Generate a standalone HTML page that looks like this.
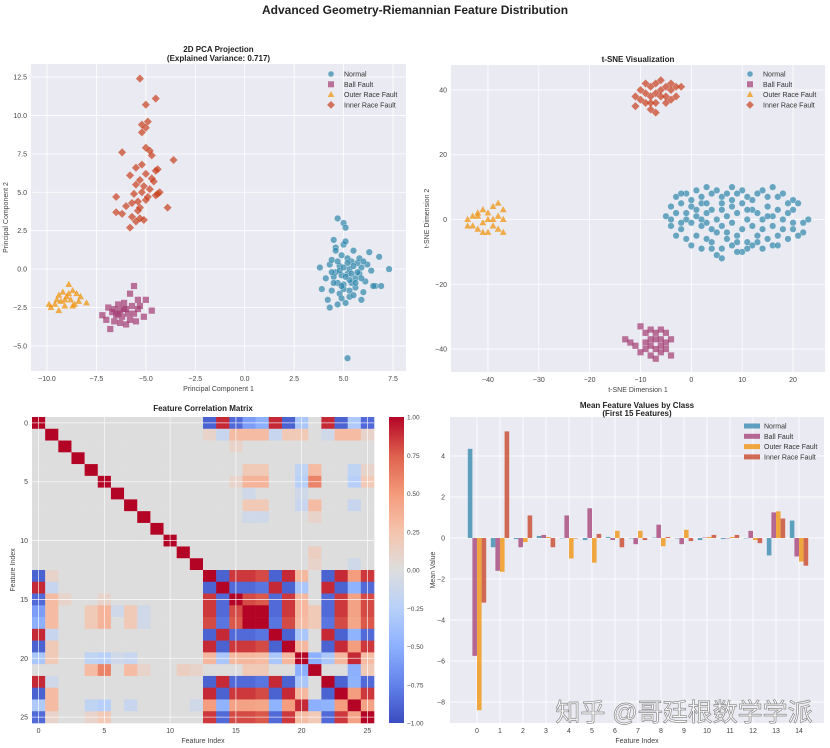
<!DOCTYPE html>
<html><head><meta charset="utf-8"><style>
html,body{margin:0;padding:0;background:#fff;}
svg{display:block;font-family:"Liberation Sans","Noto Sans CJK SC",sans-serif;}
</style></head><body>
<svg id="fig" width="830" height="748" viewBox="0 0 830 748" xmlns="http://www.w3.org/2000/svg">
<text x="415" y="14" text-anchor="middle" font-size="12" font-weight="bold" fill="#222">Advanced Geometry-Riemannian Feature Distribution</text>
<g id="pca"></g>
<g id="tsne"></g>
<g id="heat"></g>
<g id="bars"></g>
<text x="684" y="721" text-anchor="middle" font-size="25" fill="#ffffff" stroke="#8a8a8a" stroke-width="0.7">知乎 @哥廷根数学学派</text>
</svg>
<script>
// ---------- DATA ----------
const classNames = ["Normal","Ball Fault","Outer Race Fault","Inner Race Fault"];
const classColors = ["#2e86ab","#a23b72","#f18f01","#c73e1d"];
const pcaTitle = ["2D PCA Projection","(Explained Variance: 0.717)"];
const pcaXTicks = [-10.0,-7.5,-5.0,-2.5,0.0,2.5,5.0,7.5];
const pcaYTicks = [-5.0,-2.5,0.0,2.5,5.0,7.5,10.0,12.5];
const pcaNormal = [[5.2,-0.3],[4.8,0.2],[5.6,-0.6],[5.0,-1.0],[5.4,0.5],[4.6,-0.2],[5.9,0.1],[4.4,-1.4],[6.1,-0.8],[5.3,-1.8],[4.9,0.9],[5.7,0.4],[5.1,-2.2],[4.3,0.3],[6.4,-0.1],[4.7,-0.9],[5.5,1.2],[3.9,-1.3],[6.8,0.8],[5.0,1.6],[4.5,-0.5],[6.0,-1.5],[5.8,-0.3],[4.2,-2.0],[5.3,0.0],[4.1,-0.6],[6.3,1.1],[5.6,-1.2],[4.8,-1.6],[5.2,0.7],[7.3,0.0],[3.8,0.1],[6.6,-1.1],[4.6,1.4],[5.4,-0.9],[4.4,0.6],[5.9,-2.0],[4.7,-2.3],[5.1,1.8],[6.2,0.3],[4.9,-0.4],[5.7,-0.2],[4.3,-2.5],[5.5,0.2],[5.0,-1.3],[4.6,1.2],[6.5,-1.1],[5.3,-0.7],[4.8,-0.1],[5.2,0.4],[4.7,3.3],[5.0,3.0],[5.1,2.7],[4.5,1.9],[6.9,-1.1],[5.2,-5.8],[5.6,-0.9],[5.1,-0.5],[4.9,-1.1],[5.4,-0.3],[5.8,0.7],[4.5,-0.9],[5.0,0.1],[5.3,-1.4],[4.7,0.5],[5.9,-0.6],[4.4,-0.2],[6.0,0.5],[5.5,-1.7],[4.9,-1.9]];
const pcaBall = [[-5.6,-1.1],[-5.8,-1.6],[-5.4,-2.0],[-6.1,-2.2],[-6.4,-2.3],[-6.9,-2.5],[-6.7,-2.8],[-6.3,-2.7],[-6.0,-2.6],[-5.7,-2.4],[-5.4,-2.6],[-6.5,-3.0],[-6.2,-3.1],[-5.9,-2.9],[-7.2,-3.0],[-7.0,-3.3],[-6.6,-3.4],[-6.3,-3.5],[-5.8,-3.3],[-5.5,-3.4],[-6.0,-3.6],[-6.8,-3.9],[-5.1,-3.1],[-4.7,-2.7],[-5.0,-2.0],[-6.4,-2.9],[-6.1,-2.6],[-5.6,-2.9],[-6.6,-2.6],[-5.3,-2.4]];
const pcaOuter = [[-8.9,-1.0],[-9.2,-1.5],[-8.7,-1.4],[-9.4,-1.7],[-8.5,-1.6],[-9.0,-1.8],[-8.8,-2.0],[-9.3,-2.1],[-8.4,-2.1],[-8.0,-2.2],[-9.6,-2.3],[-9.9,-2.3],[-9.8,-2.5],[-9.4,-2.7],[-8.6,-2.3],[-9.1,-2.4],[-8.9,-1.6],[-9.1,-2.0],[-8.3,-1.8],[-8.7,-2.4],[-9.5,-2.0]];
const pcaInner = [[-5.3,12.4],[-4.5,11.1],[-5.0,10.7],[-5.2,9.4],[-4.9,9.6],[-5.2,8.9],[-5.0,9.2],[-5.0,7.9],[-4.8,7.7],[-6.2,7.6],[-3.6,7.1],[-4.7,7.4],[-5.5,6.6],[-5.2,6.8],[-4.5,6.4],[-4.4,6.5],[-5.8,6.1],[-5.0,6.2],[-5.3,5.8],[-4.6,5.7],[-5.5,5.5],[-5.1,5.4],[-4.8,5.2],[-4.3,5.0],[-5.6,4.9],[-5.2,5.0],[-4.9,4.7],[-4.5,4.8],[-6.5,4.7],[-5.4,4.4],[-5.7,4.3],[-5.0,4.5],[-5.3,4.0],[-3.9,4.0],[-6.0,4.1],[-5.4,3.8],[-6.5,3.7],[-6.2,3.6],[-5.7,3.4],[-5.3,3.3],[-5.5,3.1],[-5.1,3.2],[-5.8,2.7],[-4.7,5.9],[-4.4,4.9]];
const tsneXTicks = [-40,-30,-20,-10,0,10,20];
const tsneYTicks = [-40,-20,0,20,40];
const tsneNormal = [[1,9],[3,10],[5,9],[8,10],[10,9],[14,9],[16,10],[18,8],[20,6],[-3,7],[-1,8],[2,7],[4,8],[6,7],[9,8],[11,7],[13,8],[15,7],[17,7],[19,5],[21,5],[-4,4],[-2,5],[0,4],[2,5],[4,3],[6,5],[8,4],[10,5],[12,3],[15,4],[17,3],[19,2],[-1,2],[-5,1],[-3,2],[-1,0],[1,1],[3,2],[5,0],[7,1],[9,2],[11,0],[14,0],[16,1],[20,-1],[22,-1],[23,0],[-4,-2],[-2,-3],[0,-1],[2,-2],[4,-3],[6,-2],[8,-1],[10,-3],[12,-2],[14,-3],[16,-2],[18,-3],[20,-3],[22,-4],[-3,-5],[-1,-6],[1,-5],[3,-6],[5,-4],[7,-6],[9,-5],[11,-7],[13,-5],[15,-6],[17,-5],[19,-6],[21,-5],[0,-8],[2,-9],[4,-7],[6,-9],[8,-8],[10,-10],[12,-8],[14,-9],[16,-8],[5,-11],[6,-12],[9,-10],[11,-9],[1,3],[3,-1],[7,-4],[13,2],[18,0],[-2,-1],[0,6],[3,5],[7,8],[12,6],[15,1],[17,-8],[-4,0],[2,0],[6,3],[9,-7],[13,-7],[20,3],[-2,8],[4,-9],[8,6],[11,3]];
const tsneBall = [[-10,-33],[-13,-37],[-12,-38],[-11,-39],[-9,-35],[-8,-34],[-7,-35],[-6,-34],[-5,-35],[-4,-37],[-9,-38],[-8,-39],[-7,-40],[-6,-41],[-5,-40],[-4,-42],[-8,-42],[-7,-43],[-6,-37],[-5,-38],[-10,-41],[-9,-40],[-7,-37],[-8,-37],[-6,-39]];
const tsneOuter = [[-44,0],[-43,-2],[-42,1],[-41,-1],[-40,2],[-39,0],[-38,-3],[-37,-4],[-38,5],[-37,3],[-39,4],[-41,3],[-43,1],[-42,-3],[-40,-4],[-39,-2],[-41,-4],[-40,0],[-42,2],[-44,-2],[-37,0],[-38,1]];
const tsneInner = [[-11,35],[-10,37],[-9,39],[-8,41],[-7,42],[-6,43],[-5,41],[-4,40],[-3,41],[-2,41],[-9,36],[-8,34],[-7,36],[-6,38],[-5,38],[-4,37],[-10,40],[-6,40],[-8,38],[-7,39],[-5,36],[-3,38],[-11,38],[-9,42],[-4,42],[-7,33],[-8,36]];
const corrMatrix = [
[1,0,0,0,0,0,0,0,0,0,0,0,0,-.9,.9,-.86,-.6,-.5,.9,-.9,-.33,0,.9,-.9,-.3,-.86],
[0,1,0,0,0,0,0,0,0,0,0,0,0,.1,-.15,.3,.3,.3,-.15,.2,.2,0,-.1,.3,.3,.1],
[0,0,1,0,0,0,0,0,0,0,0,0,0,0,0,.1,0,0,0,0,0,0,0,0,0,0],
[0,0,0,1,0,0,0,0,0,0,0,0,0,0,0,0,0,0,0,0,0,0,0,0,0,0],
[0,0,0,0,1,0,0,0,0,0,0,0,0,0,0,0,.2,.2,0,0,-.2,.3,0,0,-.2,.1],
[0,0,0,0,0,1,0,0,0,0,0,0,0,0,0,.1,.35,.35,0,0,-.25,.6,0,0,-.25,.2],
[0,0,0,0,0,0,1,0,0,0,0,0,0,0,0,0,-.1,0,0,0,-.1,0,0,0,0,0],
[0,0,0,0,0,0,0,1,0,0,0,0,0,0,0,0,.2,.2,0,0,-.15,.3,0,0,-.15,0],
[0,0,0,0,0,0,0,0,1,0,0,0,0,0,0,0,-.1,-.1,0,0,0,.1,0,0,0,0],
[0,0,0,0,0,0,0,0,0,1,0,0,0,0,0,0,0,0,0,0,0,0,0,0,0,0],
[0,0,0,0,0,0,0,0,0,0,1,0,0,0,0,0,0,0,0,0,0,0,0,0,0,0],
[0,0,0,0,0,0,0,0,0,0,0,1,0,0,0,0,0,0,0,0,0,.15,0,0,0,0],
[0,0,0,0,0,0,0,0,0,0,0,0,1,0,0,0,0,0,0,0,0,.1,0,0,-.1,0],
[-.9,.1,0,0,0,0,0,0,0,0,0,0,0,1,-.9,.86,.86,.81,-.9,.9,.33,0,-.9,.9,.48,.86],
[.9,-.15,0,0,0,0,0,0,0,0,0,0,0,-.9,1,-.86,-.86,-.81,.9,-.9,-.33,0,.9,-.9,-.48,-.86],
[-.86,.3,.1,0,0,.1,0,0,0,0,0,0,0,.86,-.86,1,.81,.77,-.86,.86,.32,0,-.86,.86,.45,.81],
[-.6,.3,0,0,.2,.35,-.1,.2,-.1,0,0,0,0,.86,-.86,.81,1,1,-.86,.86,.32,.2,-.86,.86,.45,.81],
[-.5,.3,0,0,.2,.35,0,.2,-.1,0,0,0,0,.81,-.81,.77,1,1,-.81,.81,.3,.2,-.81,.81,.43,.77],
[.9,-.15,0,0,0,0,0,0,0,0,0,0,0,-.9,.9,-.86,-.86,-.81,1,-.9,-.33,0,.9,-.9,-.48,-.86],
[-.9,.2,0,0,0,0,0,0,0,0,0,0,0,.9,-.9,.86,.86,.81,-.9,1,.33,0,-.9,.9,.48,.86],
[-.33,.2,0,0,-.2,-.25,-.1,-.15,0,0,0,0,0,.33,-.33,.32,.32,.3,-.33,.33,1,-.5,-.33,.33,.9,.3],
[0,0,0,0,.3,.6,0,.3,.1,0,0,.15,.1,0,0,0,.2,.2,0,0,-.5,1,0,0,-.5,.2],
[.9,-.1,0,0,0,0,0,0,0,0,0,0,0,-.9,.9,-.86,-.86,-.81,.9,-.9,-.33,0,1,-.9,-.48,-.86],
[-.9,.3,0,0,0,0,0,0,0,0,0,0,0,.9,-.9,.86,.86,.81,-.9,.9,.33,0,-.9,1,.48,.86],
[-.3,.3,0,0,-.2,-.25,0,-.15,0,0,0,0,-.1,.48,-.48,.45,.45,.43,-.48,.48,.9,-.5,-.48,.48,1,.45],
[-.86,.1,0,0,.1,.2,0,0,0,0,0,0,0,.86,-.86,.81,.81,.77,-.86,.86,.3,.2,-.86,.86,.45,1]];
const heatTicks = [0,5,10,15,20,25];
const cbarTicks = [1.00,0.75,0.50,0.25,0.00,-0.25,-0.50,-0.75,-1.00];
const barCategories = [0,1,2,3,4,5,6,7,8,9,10,11,12,13,14];
const barNormal = [4.35,-0.45,-0.05,0.1,0.0,-0.1,0.05,0.0,0.02,0.0,-0.1,-0.05,0.0,-0.85,0.85];
const barBall = [-5.75,-1.6,-0.45,0.15,1.1,1.45,-0.1,-0.3,0.65,-0.3,0.02,0.0,0.35,1.25,-0.9];
const barOuter = [-8.4,-1.65,-0.2,0.05,-1.0,-1.2,0.35,0.35,-0.4,0.4,0.05,0.05,-0.1,1.3,-1.15];
const barInner = [-3.15,5.2,1.1,-0.45,0.0,0.2,-0.45,-0.1,0.05,-0.15,0.15,0.15,-0.25,0.95,-1.35];
const barYTicks = [-8,-6,-4,-2,0,2,4];

// ---------- HELPERS ----------
const NS = "http://www.w3.org/2000/svg";
function mk(parent, tag, attrs, text){
  const e = document.createElementNS(NS, tag);
  for (const k in attrs) e.setAttribute(k, attrs[k]);
  if (text !== undefined) e.textContent = text;
  parent.appendChild(e);
  return e;
}
function lin(d0,d1,r0,r1){ return v => r0 + (v-d0)/(d1-d0)*(r1-r0); }
function fmt(v,dec){ return v.toFixed(dec).replace("-","\u2212"); }

function marker(g, shape, cx, cy, color, s){
  let e;
  if (shape === 0) e = mk(g,"circle",{cx:cx,cy:cy,r:s,fill:color,"fill-opacity":0.7,stroke:"#fff","stroke-width":0.3});
  else if (shape === 1) e = mk(g,"rect",{x:cx-s,y:cy-s,width:2*s,height:2*s,fill:color,"fill-opacity":0.7});
  else if (shape === 2) e = mk(g,"polygon",{points:`${cx},${cy-s*1.2} ${cx-s*1.1},${cy+s*0.8} ${cx+s*1.1},${cy+s*0.8}`,fill:color,"fill-opacity":0.7});
  else e = mk(g,"polygon",{points:`${cx},${cy-s*1.3} ${cx+s*1.3},${cy} ${cx},${cy+s*1.3} ${cx-s*1.3},${cy}`,fill:color,"fill-opacity":0.7});
  return e;
}

function panel(g, x0,y0,x1,y1){
  const bg = mk(g,"rect",{x:x0,y:y0,width:x1-x0,height:y1-y0,fill:"#eaeaf2"});
  
  
}

function scatterPanel(g, cfg){
  panel(g,cfg.x0,cfg.y0,cfg.x1,cfg.y1);
  const sx = lin(cfg.xd[0],cfg.xd[1],cfg.x0,cfg.x1), sy = lin(cfg.yd[0],cfg.yd[1],cfg.y1,cfg.y0);
  cfg.xt.forEach(t=>{
    const X = sx(t);
    const gl = mk(g,"line",{x1:X,x2:X,y1:cfg.y0,y2:cfg.y1,stroke:"#fff","stroke-width":0.8});
    
    
    const tl = mk(g,"text",{x:X,y:cfg.y1+10,"text-anchor":"middle","font-size":7,fill:"#444"},fmt(t,cfg.xdec));
    
    
  });
  cfg.yt.forEach(t=>{
    const Y = sy(t);
    const gl = mk(g,"line",{x1:cfg.x0,x2:cfg.x1,y1:Y,y2:Y,stroke:"#fff","stroke-width":0.8});
    
    
    const tl = mk(g,"text",{x:cfg.x0-4,y:Y+2.5,"text-anchor":"end","font-size":7,fill:"#444"},fmt(t,cfg.ydec));
    
    
  });
  cfg.series.forEach((pts,ci)=>{
    pts.forEach(p=>{
      const m = marker(g, ci, sx(p[0]), sy(p[1]), classColors[ci], ci===0?3.3:3.1);
      
      
    });
  });
  cfg.title.forEach((t,i)=>{
    const tt = mk(g,"text",{x:(cfg.x0+cfg.x1)/2,y:cfg.y0-12+i*9-(cfg.title.length-1)*9+9,"text-anchor":"middle","font-size":8,"font-weight":"bold",fill:"#222"},t);
    
    
  });
  const xl = mk(g,"text",{x:(cfg.x0+cfg.x1)/2,y:cfg.y1+20,"text-anchor":"middle","font-size":7,fill:"#444"},cfg.xlabel);
  
  
  const yx = cfg.ylabX, yy = (cfg.y0+cfg.y1)/2;
  const yl = mk(g,"text",{x:yx,y:yy,"text-anchor":"middle","font-size":7,fill:"#444",transform:`rotate(-90 ${yx} ${yy})`},cfg.ylabel);
  
  
  classNames.forEach((n,i)=>{
    const ly = cfg.legY + i*10.3;
    const lm = marker(g, i, cfg.legX, ly, classColors[i], 3);
    
    
    const lt = mk(g,"text",{x:cfg.legX+13,y:ly+2.5,"font-size":7,fill:"#333"},n);
    
    
  });
}

// ---------- PCA ----------
scatterPanel(document.getElementById("pca"),{
  x0:31,x1:406,y0:64,y1:371,
  xd:[-10-16/19.8, 7.5+13/19.8], yd:[-5-25/15.33, 12.5+13/15.33],
  xt:pcaXTicks, yt:pcaYTicks, xdec:1, ydec:1,
  series:[pcaNormal,pcaBall,pcaOuter,pcaInner],
  title:pcaTitle, xlabel:"Principal Component 1", ylabel:"Principal Component 2", ylabX:8,
  legX:331, legY:74
});
// ---------- t-SNE ----------
scatterPanel(document.getElementById("tsne"),{
  x0:451,x1:825,y0:65,y1:372,
  xd:[-40-37/5.09, 20+32/5.09], yd:[-40-23/3.24, 40+25/3.24],
  xt:tsneXTicks, yt:tsneYTicks, xdec:0, ydec:0,
  series:[tsneNormal,tsneBall,tsneOuter,tsneInner],
  title:["t-SNE Visualization"], xlabel:"t-SNE Dimension 1", ylabel:"t-SNE Dimension 2", ylabX:429,
  legX:750, legY:74
});

// ---------- HEATMAP ----------
const cmapStops = [[-1,[59,76,192]],[-0.75,[98,130,234]],[-0.5,[141,176,254]],[-0.25,[184,208,249]],[0,[221,221,221]],[0.25,[245,196,173]],[0.5,[244,154,123]],[0.75,[222,96,77]],[1,[180,4,38]]];
function coolwarm(v){
  v = Math.max(-1,Math.min(1,v));
  for (let i=0;i<cmapStops.length-1;i++){
    const a=cmapStops[i], b=cmapStops[i+1];
    if (v<=b[0]){ const t=(v-a[0])/(b[0]-a[0]); const c=a[1].map((x,k)=>Math.round(x+(b[1][k]-x)*t)); return `rgb(${c})`; }
  }
  return "rgb(180,4,38)";
}
(function(){
  const g = document.getElementById("heat");
  const x0=32,x1=374,y0=417,y1=723, n=corrMatrix.length;
  const sx = lin(-0.5,n-0.5,x0,x1), sy = lin(-0.5,n-0.5,y0,y1);
  const cw=(x1-x0)/n, ch=(y1-y0)/n;
  corrMatrix.forEach((row,i)=>row.forEach((v,j)=>{
    const c = mk(g,"rect",{x:sx(j-0.5),y:sy(i-0.5),width:cw+0.3,height:ch+0.3,fill:coolwarm(v)});
    
    
  }));
  heatTicks.forEach(t=>{
    const gx = mk(g,"line",{x1:sx(t),x2:sx(t),y1:y0,y2:y1,stroke:"#fff","stroke-width":0.8,"stroke-opacity":0.8});
    
    
    const gy = mk(g,"line",{x1:x0,x2:x1,y1:sy(t),y2:sy(t),stroke:"#fff","stroke-width":0.8,"stroke-opacity":0.8});
    
    
    const tx = mk(g,"text",{x:sx(t),y:y1+10,"text-anchor":"middle","font-size":7,fill:"#444"},t);
    
    
    const ty = mk(g,"text",{x:x0-4,y:sy(t)+2.5,"text-anchor":"end","font-size":7,fill:"#444"},t);
    
    
  });
  const tt = mk(g,"text",{x:(x0+x1)/2,y:y0-6,"text-anchor":"middle","font-size":8,"font-weight":"bold",fill:"#222"},"Feature Correlation Matrix");
  
  
  const xl = mk(g,"text",{x:(x0+x1)/2,y:y1+20,"text-anchor":"middle","font-size":7,fill:"#444"},"Feature Index");
  
  
  const yl = mk(g,"text",{x:15,y:(y0+y1)/2,"text-anchor":"middle","font-size":7,fill:"#444",transform:`rotate(-90 15 ${(y0+y1)/2})`},"Feature Index");
  
  
  const cb0=389, cb1=404;
  const cy = lin(-1,1,y1,y0);
  const defs = mk(g,"defs",{});
  const lg = mk(defs,"linearGradient",{id:"cwgrad",x1:0,y1:1,x2:0,y2:0});
  cmapStops.forEach(s=>mk(lg,"stop",{offset:((s[0]+1)/2*100)+"%","stop-color":`rgb(${s[1]})`}));
  const cb = mk(g,"rect",{x:cb0,y:y0,width:cb1-cb0,height:y1-y0,fill:"url(#cwgrad)"});
  
  
  cbarTicks.forEach(t=>{
    const ct = mk(g,"text",{x:cb1+3,y:cy(t)+2.5,"font-size":6.5,fill:"#444"},fmt(t,2));
    
    
  });
})();

// ---------- BARS ----------
(function(){
  const g = document.getElementById("bars");
  const x0=450,x1=824,y0=417,y1=723;
  panel(g,x0,y0,x1,y1);
  const sx = lin(0,14,477,799), sy = lin(0,4,538,456);
  barYTicks.forEach(t=>{
    const gl = mk(g,"line",{x1:x0,x2:x1,y1:sy(t),y2:sy(t),stroke:"#fff","stroke-width":0.8});
    
    
    const tl = mk(g,"text",{x:x0-5,y:sy(t)+2.5,"text-anchor":"end","font-size":7,fill:"#444"},fmt(t,0));
    
    
  });
  barCategories.forEach(c=>{
    const gl = mk(g,"line",{x1:sx(c),x2:sx(c),y1:y0,y2:y1,stroke:"#fff","stroke-width":0.8});
    
    
    const tl = mk(g,"text",{x:sx(c),y:y1+10,"text-anchor":"middle","font-size":7,fill:"#444"},c);
    
    
  });
  const series=[barNormal,barBall,barOuter,barInner];
  const w = 4.6;
  series.forEach((vals,si)=>{
    vals.forEach((v,i)=>{
      const cx = sx(barCategories[i]) + (si-1.5)*w;
      const ya = sy(Math.max(v,0)), yb = sy(Math.min(v,0));
      const b = mk(g,"rect",{x:cx-w/2,y:ya,width:w,height:Math.max(yb-ya,0.4),fill:classColors[si],"fill-opacity":0.75});
      
      
    });
  });
  const t1 = mk(g,"text",{x:(x0+x1)/2,y:y0-9,"text-anchor":"middle","font-size":8,"font-weight":"bold",fill:"#222"},"Mean Feature Values by Class");
  
  
  const t2 = mk(g,"text",{x:(x0+x1)/2,y:y0-1,"text-anchor":"middle","font-size":8,"font-weight":"bold",fill:"#222"},"(First 15 Features)");
  
  
  const xl = mk(g,"text",{x:(x0+x1)/2,y:y1+20,"text-anchor":"middle","font-size":7,fill:"#444"},"Feature Index");
  
  
  const yl = mk(g,"text",{x:435,y:(y0+y1)/2,"text-anchor":"middle","font-size":7,fill:"#444",transform:`rotate(-90 435 ${(y0+y1)/2})`},"Mean Value");
  
  
  classNames.forEach((n,i)=>{
    const ly = 426 + i*10.3;
    const sw = mk(g,"rect",{x:744,y:ly-2.5,width:16,height:5,fill:classColors[i],"fill-opacity":0.75});
    
    
    const lt = mk(g,"text",{x:764,y:ly+2.5,"font-size":7,fill:"#333"},n);
    
    
  });
})();
</script>
</body></html>
